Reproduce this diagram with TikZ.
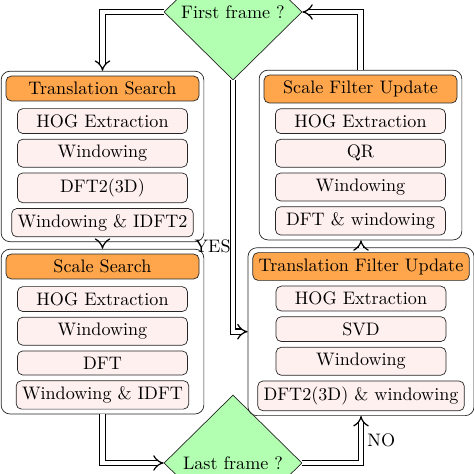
\documentclass[tikz,border=0pt]{standalone}
\usetikzlibrary{positioning,fit,shapes.geometric,arrows.meta}

\begin{document}
\begin{tikzpicture}[
        every node/.style={font=\fontsize{10.3pt}{12pt}\selectfont},
        head/.style={draw=black!85, fill=orange!70, rounded corners=3pt, minimum width=3.86cm},
        stage/.style={draw=black!85, fill=red!6, rounded corners=3pt, minimum width=3.4cm},
        group/.style={draw=black!85, rounded corners=5pt, inner sep=0.09cm},
        query/.style={draw=black!85, fill=green!30, diamond, inner sep=0pt, minimum width=2.76cm, minimum height=2.72cm},
        flow/.style={draw=black, double, double distance=2.4pt, line width=0.7pt, -{Implies[scale=1.3]}}
    ]
    \useasboundingbox (0,0) rectangle (9.48,-9.48);

    \node[query] (first) at (4.66,-0.24) {First frame ?};
    \node[query] (last) at (4.66,-9.26) {Last frame ?};

    % translation search
    \node[head] (tsHead) at (2.05,-1.77) {Translation Search};
    \node[stage, below=0.14cm of tsHead] (tsHog) {HOG Extraction};
    \node[stage, below=0.1cm of tsHog] (tsWin) {Windowing};
    \node[stage, below=0.1cm of tsWin] (tsDft) {DFT2(3D)};
    \node[stage, below=0.1cm of tsDft] (tsIdft) {Windowing \& IDFT2};
    \node[group, fit=(tsHead)(tsIdft)] (tsBox) {};

    % scale search
    \node[head] (ssHead) at (2.05,-5.33) {Scale Search};
    \node[stage, below=0.14cm of ssHead] (ssHog) {HOG Extraction};
    \node[stage, below=0.1cm of ssHog] (ssWin) {Windowing};
    \node[stage, below=0.1cm of ssWin] (ssDft) {DFT};
    \node[stage, below=0.1cm of ssDft] (ssIdft) {Windowing \& IDFT};
    \node[group, fit=(ssHead)(ssIdft)] (ssBox) {};

    % scale filter update
    \node[head] (sfHead) at (7.21,-1.78) {Scale Filter Update};
    \node[stage, below=0.1cm of sfHead] (sfHog) {HOG Extraction};
    \node[stage, below=0.1cm of sfHog] (sfQr) {QR};
    \node[stage, below=0.1cm of sfQr] (sfWin) {Windowing};
    \node[stage, below=0.1cm of sfWin] (sfDft) {DFT \& windowing};
    \node[group, fit=(sfHead)(sfDft)] (sfBox) {};

    % translation filter update
    \node[head] (tfHead) at (7.22,-5.33) {Translation Filter Update};
    \node[stage, below=0.1cm of tfHead] (tfHog) {HOG Extraction};
    \node[stage, below=0.1cm of tfHog] (tfSvd) {SVD};
    \node[stage, below=0.1cm of tfSvd] (tfWin) {Windowing};
    \node[stage, below=0.1cm of tfWin] (tfDft) {DFT2(3D) \& windowing};
    \node[group, fit=(tfHead)(tfDft)] (tfBox) {};

    \draw[flow] (first.west) -| (tsBox.north);
    \draw[flow] (tsBox.south) -- (ssBox.north);
    \draw[flow] (ssBox.south) |- (last.west);
    \draw[flow] (last.east) -| node[pos=0.74, right] {NO} (tfBox.south);
    \draw[flow] (tfBox.north) -- (tfBox.north |- sfBox.south);
    \draw[flow] (sfBox.north) |- (first.east);
    \draw[flow] (first.south) |- node[pos=0.33, left, inner sep=1pt] {YES} (tfBox.west);
\end{tikzpicture}
\end{document}
